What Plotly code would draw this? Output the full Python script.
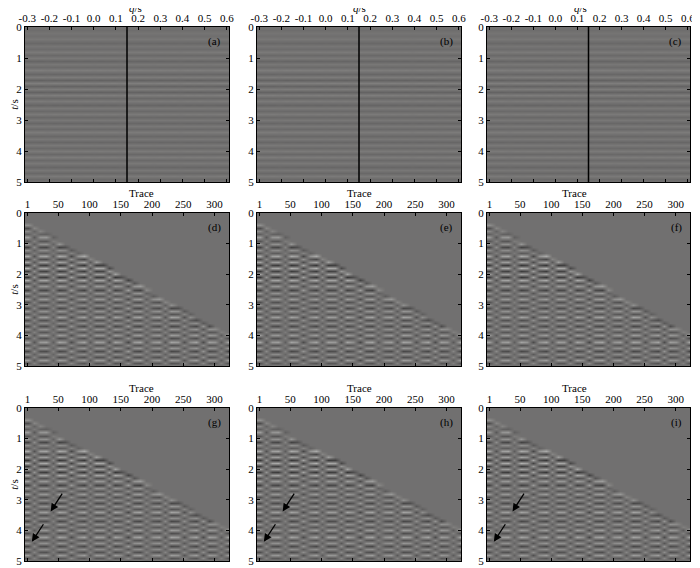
import numpy as np
import plotly.graph_objects as go

t_rows = [i * 0.1 for i in range(51)]
refl = [0.1, -0.2, 0.3, -0.1, 0.5, -0.6, 0.4, -0.3, 0.7, -0.5,
        0.6, -0.8, 0.5, -0.4, 0.9, -0.7, 0.8, -1.0, 1.0, -0.9,
        0.8, -1.0, 0.9, -0.6, 0.7, -0.8, 0.6, -0.5, 0.7, -0.6,
        0.5, -0.7, 0.6, -0.5, 0.8, -0.6, 0.5, -0.7, 0.6, -0.5,
        0.7, -0.6, 0.8, -0.5, 0.6, -0.7, 0.5, -0.6, 0.7, -0.5, 0.4]
# lateral modulation across traces
traces = [1 + 10 * i for i in range(33)]
lat = [1.0, -0.6, 0.8, 0.9, -0.4, 1.0, 0.7, -0.8, 0.6, 1.0, -0.5,
       0.9, 0.8, -0.7, 1.0, 0.6, -0.9, 0.8, 1.0, -0.5, 0.7, 0.9,
       -0.6, 1.0, 0.8, -0.7, 0.6, 1.0, -0.8, 0.9, 0.7, -0.5, 1.0]
# first-arrival time per trace
onset_trace = [1, 50, 100, 150, 200, 250, 320]
onset_time = [0.35, 0.9, 1.45, 2.0, 2.6, 3.15, 4.0]
# tau-p panels
q_vals = [-0.3 + 0.03 * i for i in range(31)]
q_lat = [1.0, 0.9, 1.0, 0.8, 1.0, 0.9, 1.0, 0.95, 0.9, 1.0, 0.85,
         1.0, 0.9, 1.0, 0.8, 1.0, 0.9, 1.0, 0.95, 0.85, 1.0, 0.9,
         1.0, 0.8, 1.0, 0.9, 1.0, 0.85, 0.9, 1.0, 0.95]
q_line = 0.15
panel_labels = ["(a)", "(b)", "(c)", "(d)", "(e)", "(f)", "(g)", "(h)", "(i)"]
q_ticks = [-0.3, -0.2, -0.1, 0.0, 0.1, 0.2, 0.3, 0.4, 0.5, 0.6]
trace_ticks = [1, 50, 100, 150, 200, 250, 300]

# page has an 8px body margin, so layout is in page pixels minus 8
OFF = 8
W, H = 700 - OFF, 568 - OFF
xdom = [(25, 229), (257, 461), (487, 690)]
ydom = [(27, 182), (213, 366), (408, 561)]
title_y = [8, 193, 388]

refl_a = np.array(refl)
z_tp = np.outer(refl_a * 0.35, np.array(q_lat))
onset = np.interp(traces, onset_trace, onset_time)
z_x = np.outer(refl_a, np.array(lat))
z_x = np.where(np.array(t_rows)[:, None] >= onset[None, :], z_x, 0.0)

font = dict(family="Liberation Serif", size=11, color="black")
fig = go.Figure()
k = 0
for r in range(3):
    for c in range(3):
        k += 1
        xa = "x" if k == 1 else f"x{k}"
        ya = "y" if k == 1 else f"y{k}"
        if r == 0:
            fig.add_trace(go.Heatmap(x=q_vals, y=t_rows, z=z_tp, colorscale="gray",
                                     zmin=-3, zmax=3, zsmooth="best", showscale=False,
                                     xaxis=xa, yaxis=ya))
            fig.add_trace(go.Scatter(x=[q_line, q_line], y=[0, 5], mode="lines",
                                     line=dict(color="black", width=1.5), showlegend=False,
                                     xaxis=xa, yaxis=ya))
            xr, tv, tt, title = [-0.31, 0.61], q_ticks, [f"{v:.1f}" for v in q_ticks], "<i>q</i>/s"
        else:
            fig.add_trace(go.Heatmap(x=traces, y=t_rows, z=z_x, colorscale="gray",
                                     zmin=-2, zmax=2, zsmooth="best", showscale=False,
                                     xaxis=xa, yaxis=ya))
            xr, tv, tt, title = [-3, 323], trace_ticks, [str(v) for v in trace_ticks], "Trace"
        x0, x1 = xdom[c][0] - OFF, xdom[c][1] - OFF
        y0, y1 = ydom[r][0] - OFF, ydom[r][1] - OFF
        axcommon = dict(showline=True, linecolor="black", mirror="ticks", ticks="inside",
                        ticklen=3, tickcolor="black", showgrid=False, zeroline=False,
                        tickfont=font, automargin=False)
        fig.layout[xa.replace("x", "xaxis")] = dict(
            axcommon, domain=[x0 / W, x1 / W], anchor=ya, side="top", range=xr,
            tickvals=tv, ticktext=tt)
        fig.layout[ya.replace("y", "yaxis")] = dict(
            axcommon, domain=[1 - y1 / H, 1 - y0 / H], anchor=xa, range=[5, 0],
            tickvals=[0, 1, 2, 3, 4, 5],
            title=dict(text="<i>t</i>/s" if c == 0 else "", font=font, standoff=2))
        fig.add_annotation(x=(x0 + x1) / 2 / W, y=1 - (title_y[r] - OFF) / H, xref="paper",
                           yref="paper", yanchor="middle", text=title,
                           showarrow=False, font=font)
        fig.add_annotation(x=0.97, y=0.96, xref=f"{xa} domain", yref=f"{ya} domain",
                           text=panel_labels[k - 1], showarrow=False, font=font,
                           xanchor="right", yanchor="top")
        if r == 2:
            for (tx, ty, hx, hy) in [(58, 2.75, 38, 3.38), (28, 3.75, 8, 4.37)]:
                fig.add_annotation(x=hx, y=hy, ax=tx, ay=ty, xref=xa, yref=ya,
                                   axref=xa, ayref=ya, text="", showarrow=True,
                                   arrowhead=2, arrowsize=1.2, arrowwidth=1.3,
                                   arrowcolor="black")

fig.update_layout(width=W, height=H, margin=dict(l=0, r=0, t=0, b=0, autoexpand=False),
                  plot_bgcolor="white", paper_bgcolor="white", showlegend=False)
fig.write_html("out.html")
